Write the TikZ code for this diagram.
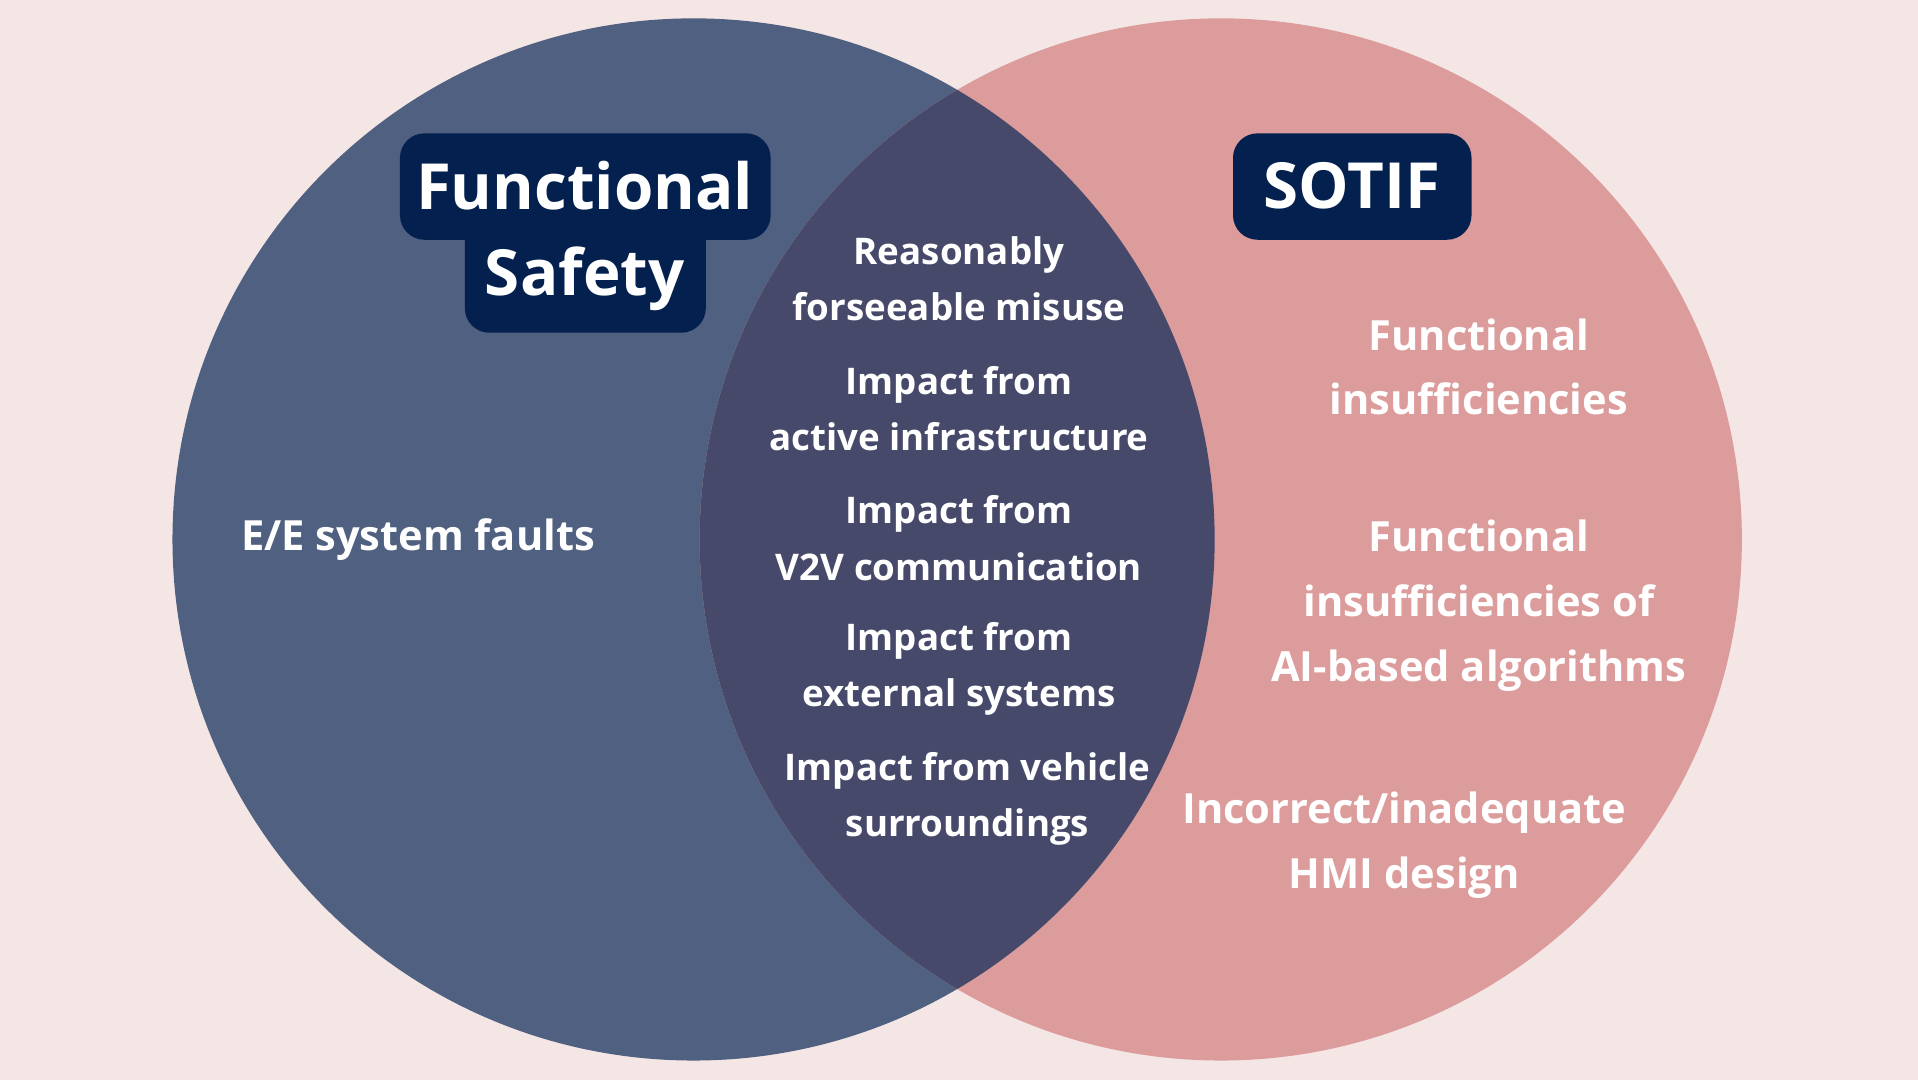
\documentclass[tikz,border=0pt]{standalone}
\usepackage{fontspec}
\setmainfont{Open Sans}
\definecolor{bg}{HTML}{F5E6E6}
\definecolor{lc}{HTML}{4F6080}
\definecolor{rc}{HTML}{DD9C9C}
\definecolor{mc}{HTML}{46496A}
\definecolor{navy}{HTML}{03204E}
\begin{document}
\begin{tikzpicture}[x=0.5pt,y=-0.5pt,
  mid/.style={text=white,font=\bfseries\fontsize{15}{23}\selectfont,align=center},
  rt/.style={text=white,font=\bfseries\fontsize{17}{26.5}\selectfont,align=center},
  ttl/.style={text=white,font=\bfseries\fontsize{26}{37}\selectfont,align=center}]
\fill[bg] (0,0) rectangle (1568,883);
\useasboundingbox (0,0) rectangle (1568,883);
\fill[lc] (567,441) circle[radius=426];
\fill[rc] (998,441) circle[radius=426];
\begin{scope}
\clip (567,441) circle[radius=426];
\fill[mc] (998,441) circle[radius=426];
\end{scope}
% title boxes
\fill[navy,rounded corners=10pt] (327,109) rectangle (630,196);
\fill[navy,rounded corners=10pt] (380,160) rectangle (577,272);
\fill[navy,rounded corners=10pt] (1008,109) rectangle (1203,196);
\node[ttl] (fs1) at (478,152) {Functional};
\node[ttl] (fs2) at (478,228) {Safety};
\node[ttl] (so) at (1105,152) {SOTIF};
% middle
\node[mid] (m1) at (784,228) {Reasonably\\forseeable misuse};
\node[mid] (m2) at (784,334) {Impact from\\active infrastructure};
\node[mid] (m3) at (784,440) {Impact from\\V2V communication};
\node[mid] (m4) at (784,547) {Impact from\\external systems};
\node[mid] (m5) at (791,653) {Impact from vehicle\\surroundings};
% left
\node[rt,anchor=west] (l1) at (190,441) {E/E system faults};
% right
\node[rt] (r1) at (1209,300) {Functional\\insufficiencies};
\node[rt] (r2) at (1209,495) {Functional\\insufficiencies of\\AI-based algorithms};
\node[rt] (r3) at (1148,691) {Incorrect/inadequate\\HMI design};
\end{tikzpicture}
\end{document}
